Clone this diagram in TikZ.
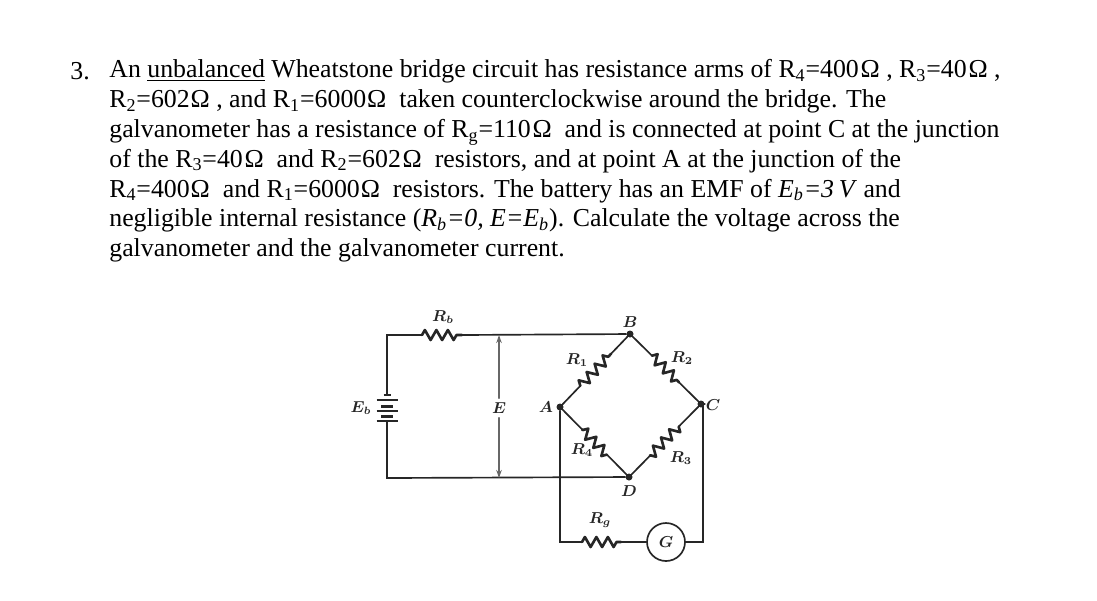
\documentclass[tikz,border=0pt]{standalone}
\usepackage{fontspec}
\setmainfont{Liberation Serif}
\usetikzlibrary{arrows.meta,calc,decorations.pathmorphing}
\definecolor{ink}{gray}{0.15}
\tikzset{
  wire/.style={draw=ink, line width=0.95pt, line cap=round},
  res/.style={draw=ink, line width=1.5pt, line join=round, line cap=round, decorate,
    decoration={zigzag, segment length=0.23cm, amplitude=0.1cm}},
  dot/.style={circle, fill=ink, inner sep=0pt, minimum size=0.14cm},
  lab/.style={text=ink, font=\small\boldmath, inner sep=0pt},
  para/.style={anchor=north west, align=left, inner sep=0pt,
    font=\fontsize{14.7}{17}\selectfont},
}
\begin{document}
\begin{tikzpicture}[x=0.02cm, y=-0.02cm]
  \useasboundingbox (0,0) rectangle (1097,600);
  % question text
  \node[para, anchor=base west] (num) at (70,79) {3.};
  \node[para] (question) at (109,59) {An \underline{unbalanced} Wheatstone bridge circuit has resistance arms of R\textsubscript{4}=400\kern1ptΩ , R\textsubscript{3}=40\kern1ptΩ ,\\
    R\textsubscript{2}=602\kern0.5ptΩ , and R\textsubscript{1}=6000\kern0.5ptΩ\ \ taken counterclockwise around the bridge. The\\
    galvanometer has a resistance of R\textsubscript{g}=110\kern1ptΩ\ \ and is connected at point C at the junction\\
    of the R\textsubscript{3}=40\kern1ptΩ\ \ and R\textsubscript{2}=602\kern1ptΩ\ \ resistors, and at point A at the junction of the\\
    R\textsubscript{4}=400\kern0.5ptΩ\ \ and R\textsubscript{1}=6000\kern0.5ptΩ\ \ resistors. The battery has an EMF of \textit{E\textsubscript{b}=3\kern-1pt\ V} and\\
    negligible internal resistance (\textit{R\textsubscript{b}=0,\ E=E\textsubscript{b}}). Calculate the voltage across the\\
    galvanometer and the galvanometer current.};
  % bridge
  \node[dot] (B) at (630,334) {};
  \node[dot] (A) at (560,407) {};
  \node[dot] (C) at (701,404) {};
  \node[dot] (D) at (629,477) {};
  \node[lab] (Blab) at (630,322) {$B$};
  \node[lab] (Alab) at (546,407) {$A$};
  \node[lab] (Clab) at (713,405) {$C$};
  \node[lab] (Dlab) at (629,491) {$D$};
  \coordinate (r1a) at ($(A)!0.29!(B)$);
  \coordinate (r1b) at ($(A)!0.73!(B)$);
  \coordinate (r2a) at ($(B)!0.31!(C)$);
  \coordinate (r2b) at ($(B)!0.69!(C)$);
  \coordinate (r3a) at ($(C)!0.31!(D)$);
  \coordinate (r3b) at ($(C)!0.71!(D)$);
  \coordinate (r4a) at ($(A)!0.32!(D)$);
  \coordinate (r4b) at ($(A)!0.68!(D)$);
  \draw[wire] (A) -- (r1a);
  \draw[res] (r1a) -- (r1b);
  \draw[wire] (r1b) -- (B);
  \draw[wire] (B) -- (r2a);
  \draw[res] (r2a) -- (r2b);
  \draw[wire] (r2b) -- (C);
  \draw[wire] (C) -- (r3a);
  \draw[res] (r3a) -- (r3b);
  \draw[wire] (r3b) -- (D);
  \draw[wire] (D) -- (r4b);
  \draw[res] (r4b) -- (r4a);
  \draw[wire] (r4a) -- (A);
  \node[lab] (R1) at (577,360) {$R_1$};
  \node[lab] (R2) at (682,358) {$R_2$};
  \node[lab] (R3) at (681,458) {$R_3$};
  \node[lab] (R4) at (582,450) {$R_4$};
  % galvanometer branch
  \node[circle, draw=ink, line width=0.95pt, minimum size=0.76cm, inner sep=0pt, lab] (G) at (666,542) {$G$};
  \coordinate (gl) at (560,542);
  \coordinate (gr) at (703,542);
  \coordinate (gt) at (703,404);
  \coordinate (rga) at (582,542);
  \coordinate (rgb) at (621,542);
  \draw[wire] (A) -- (gl) -- (rga);
  \draw[res] (rga) -- (rgb);
  \draw[wire] (rgb) -- (G);
  \draw[wire] (G) -- (gr) -- (gt) -- (C);
  \node[lab] (Rg) at (600,520) {$R_g$};
  % battery side
  \coordinate (tl) at (387,335);
  \coordinate (bl) at (387,478);
  \coordinate (rba) at (422,335);
  \coordinate (rbb) at (462,335);
  \coordinate (bat1) at (387,395);
  \coordinate (bat2) at (387,421);
  \coordinate (Etop) at (499,335);
  \coordinate (Ebot) at (499,478);
  \draw[wire] (bat1) -- (tl) -- (rba);
  \draw[res] (rba) -- (rbb);
  \draw[wire] (rbb) -- (B);
  \draw[wire] (bat2) -- (bl) -- (D);
  \foreach \py/\pw/\pt in {395/7/1.3, 400/21/1.0, 406/12/1.7, 411/21/1.0, 416/12/1.7, 421/21/1.0}
    \draw[draw=ink, line width=\pt pt] (387-\pw/2,\py) -- (387+\pw/2,\py);
  \node[lab] (Rblab) at (443,317) {$R_b$};
  \node[lab] (Eb) at (361,408) {$E_b$};
  \node[lab, minimum height=0.38cm] (E) at (499,408) {$E$};
  \draw[wire, draw=ink!70, -{Stealth[length=0.16cm,width=0.11cm]}] (E) -- (Etop);
  \draw[wire, draw=ink!70, -{Stealth[length=0.16cm,width=0.11cm]}] (E) -- (Ebot);
\end{tikzpicture}
\end{document}
